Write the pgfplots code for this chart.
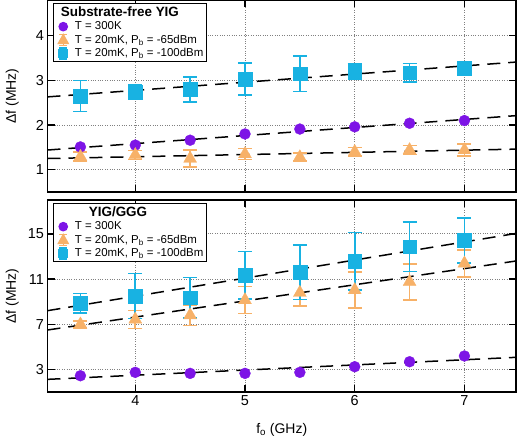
\documentclass[border=0pt]{standalone}
\usepackage{pgfplots}
\pgfplotsset{compat=1.18}
\usepackage{fontspec}
\setmainfont{Liberation Sans}
\definecolor{cpurple}{RGB}{125,20,230}
\definecolor{corange}{RGB}{247,177,104}
\definecolor{ccyan}{RGB}{24,178,226}

\pgfplotstableread{
x y
3.5 1.51
4 1.55
4.5 1.66
5 1.80
5.5 1.91
6 1.96
6.5 2.04
7 2.10
}\topP
\pgfplotstableread{
x y e
3.5 1.29 0.10
4 1.33 0.10
4.5 1.25 0.19
5 1.35 0.12
5.5 1.28 0.09
6 1.40 0.10
6.5 1.44 0.10
7 1.44 0.13
}\topO
\pgfplotstableread{
x y e
3.5 2.65 0.35
4 2.73 0.16
4.5 2.80 0.28
5 3.03 0.36
5.5 3.15 0.40
6 3.20 0.18
6.5 3.17 0.21
7 3.27 0.12
}\topC
\pgfplotstableread{
x y
3.5 2.44
4 2.74
4.5 2.65
5 2.65
5.5 2.74
6 3.24
6.5 3.68
7 4.19
}\botP
\pgfplotstableread{
x y e
3.5 6.99 0.3
4 7.43 0.8
4.5 7.80 0.9
5 9.14 1.2
5.5 9.79 1.2
6 10.03 1.6
6.5 10.76 1.6
7 12.39 1.2
}\botO
\pgfplotstableread{
x y e
3.5 8.85 0.88
4 9.50 2.0
4.5 9.35 1.8
5 11.35 2.1
5.5 11.59 2.4
6 12.59 2.55
6.5 13.86 2.2
7 14.42 2.0
}\botC

\pgfplotsset{
 panel/.style={
  scale only axis, width=468.5bp, height=192bp,
  xmin=3.2, xmax=7.47,
  axis line style={line width=1.6bp},
  every tick/.style={line width=1.3bp, black},
  major tick length=7bp,
  tick align=inside,
  xtick={4,5,6,7},
  grid=major,
  grid style={dotted, gray, line width=0.9bp},
  ticklabel style={font=\fontsize{14.5}{16}\selectfont},
  /pgf/number format/assume math mode=true,
  label style={font=\fontsize{14}{16}\selectfont},
  ylabel style={at={(axis description cs:-0.075,0.5)}, anchor=center},
  ylabel={Δf (MHz)},
  legend style={at={(axis description cs:0.011,0.985)}, anchor=north west, draw=black, line width=1.2bp, font=\fontsize{11.5}{12}\selectfont, row sep=-0.3bp, column sep=4bp, inner sep=1.5bp},
  legend cell align=left,
 },
 fit/.style={black, line width=1.5bp, dash pattern=on 13bp off 8bp, forget plot},
 errb/.style={error bars/.cd, y dir=both, y explicit, error bar style={line width=1.6bp}, error mark options={rotate=90, mark size=7bp, line width=1.6bp}},
 sP/.style={only marks, mark=*, mark size=5.5bp, draw=cpurple, fill=cpurple, mark options={line width=0.3bp},
   legend image code/.code={\fill[cpurple] (0.3cm,0) circle (4.2bp);}},
 sO/.style={only marks, mark=triangle*, mark size=7.5bp, color=corange, mark options={line width=0.3bp, draw=corange, fill=corange},
   legend image code/.code={\draw[corange, line width=1.2bp] (0.3cm,-5.5bp) -- (0.3cm,5.5bp) (0.3cm-4bp,-5.5bp) -- (0.3cm+4bp,-5.5bp) (0.3cm-4bp,5.5bp) -- (0.3cm+4bp,5.5bp);
     \fill[corange] (0.3cm,5.5bp) -- (0.3cm+5bp,-3.5bp) -- (0.3cm-5bp,-3.5bp) -- cycle;}},
 sC/.style={only marks, mark=square*, mark size=6.8bp, color=ccyan, mark options={line width=0.3bp, draw=ccyan, fill=ccyan},
   legend image code/.code={\draw[ccyan, line width=1.2bp] (0.3cm,-5.5bp) -- (0.3cm,5.5bp) (0.3cm-4bp,-5.5bp) -- (0.3cm+4bp,-5.5bp) (0.3cm-4bp,5.5bp) -- (0.3cm+4bp,5.5bp);
     \fill[ccyan] (0.3cm-4.2bp,-4.2bp) rectangle (0.3cm+4.2bp,4.2bp);}},
}

\begin{document}
\begin{tikzpicture}
\useasboundingbox (0,0) rectangle (520bp,-443bp);
\begin{axis}[panel, at={(47.5bp,-192bp)}, anchor=south west,
  ymin=0.5, ymax=4.8, ytick={1,2,3,4}, xticklabels={}]
\addlegendimage{empty legend}
\addlegendentry{\hspace*{-14bp}\fontsize{13.5}{13}\selectfont\bfseries Substrate-free YIG}
\addplot[fit] coordinates {(3.2,2.63) (7.47,3.41)};
\addplot[fit] coordinates {(3.2,1.44) (7.47,2.21)};
\addplot[fit] coordinates {(3.2,1.25) (7.47,1.46)};
\addplot[sP] table[x=x,y=y] {\topP};
\addlegendentry{T = 300K}
\addplot[sO, errb] table[x=x,y=y,y error=e] {\topO};
\addlegendentry{T = 20mK, P\textsubscript{b} = -65dBm}
\addplot[sC, errb] table[x=x,y=y,y error=e] {\topC};
\addlegendentry{T = 20mK, P\textsubscript{b} = -100dBm}
\end{axis}
\begin{axis}[panel, at={(47.5bp,-392bp)}, anchor=south west,
  ymin=1, ymax=18, ytick={3,7,11,15},
  xlabel={f\textsubscript{o} (GHz)},
  xlabel style={at={(axis description cs:0.5,0)}, anchor=center, yshift=-38bp}]
\addlegendimage{empty legend}
\addlegendentry{\hspace*{14bp}\fontsize{13.5}{13}\selectfont\bfseries YIG/GGG}
\addplot[fit] coordinates {(3.2,8.2) (7.47,15.04)};
\addplot[fit] coordinates {(3.2,6.49) (7.47,12.6)};
\addplot[fit] coordinates {(3.2,2.12) (7.47,4.07)};
\addplot[sP] table[x=x,y=y] {\botP};
\addlegendentry{T = 300K}
\addplot[sO, errb] table[x=x,y=y,y error=e] {\botO};
\addlegendentry{T = 20mK, P\textsubscript{b} = -65dBm}
\addplot[sC, errb] table[x=x,y=y,y error=e] {\botC};
\addlegendentry{T = 20mK, P\textsubscript{b} = -100dBm}
\end{axis}
\end{tikzpicture}
\end{document}
